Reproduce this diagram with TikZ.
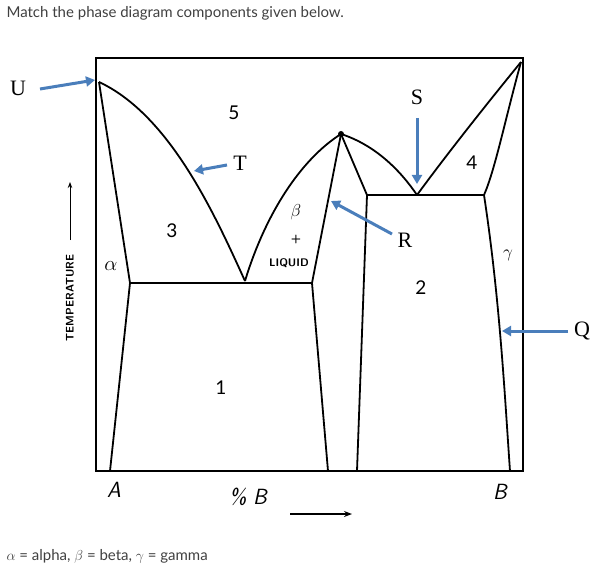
\documentclass[tikz,border=0pt]{standalone}
\usepackage{fontspec}
\setmainfont{Liberation Serif}
\newfontfamily\lato{Lato}
\usetikzlibrary{arrows.meta}
\begin{document}
\begin{tikzpicture}[x=1pt,y=-1pt,
  ph/.style={line width=1.8pt,black},
  bl/.style={draw={rgb,255:red,74;green,126;blue,187},line width=3pt,-{Triangle[length=9pt,width=10pt]}},
  lbl/.style={font=\lato\fontsize{19}{19}\selectfont},
  ser/.style={font=\fontsize{22}{22}\selectfont}]
\useasboundingbox (0,0) rectangle (616,575);
\node[anchor=west,font=\lato\fontsize{15}{15}\selectfont,text=black!75] (title) at (3,13) {Match the phase diagram components given below.};
\draw[ph] (96,58) rectangle (523,471);
\coordinate (U) at (99,82);
\coordinate (a1) at (130,283);
\coordinate (a0) at (110,471);
\coordinate (E) at (245,281);
\coordinate (b1) at (312,283);
\coordinate (b0) at (328,471);
\coordinate (P) at (341,134);
\coordinate (c1) at (367,195);
\coordinate (c0) at (357,471);
\coordinate (S) at (417,195);
\coordinate (g1) at (484,195);
\coordinate (g0) at (510,471);
\coordinate (G) at (521,62);
\draw[ph] (U) -- (a1) -- (a0);
\draw[ph] (U) .. controls (170,115) and (215,215) .. (E);
\draw[ph] (a1) -- (b1);
\draw[ph] (E) .. controls (265,215) and (300,160) .. (P);
\draw[ph] (P) -- (b1) -- (b0);
\draw[ph] (P) -- (c1) -- (c0);
\draw[ph] (P) .. controls (375,145) and (400,170) .. (S);
\draw[ph] (c1) -- (g1);
\draw[ph] (S) .. controls (450,150) and (490,100) .. (G);
\draw[ph] (G) .. controls (505,120) and (495,170) .. (g1);
\draw[ph] (g1) .. controls (500,300) and (505,400) .. (g0);
\fill (P) circle (3pt);
% labels
\node[lbl] (n5) at (234,113) {5};
\node[lbl] (n3) at (172,231) {3};
\node[lbl] (n4) at (472,163) {4};
\node[lbl] (n2) at (421,288) {2};
\node[lbl] (n1) at (221,388) {1};
\node[font=\fontsize{20}{20}\selectfont] (al) at (111,266) {$\alpha$};
\node[font=\fontsize{18}{18}\selectfont] (ga) at (508,255) {$\gamma$};
\node[font=\fontsize{18}{18}\selectfont] (be) at (296,212) {$\beta$};
\node[font=\sffamily\bfseries\fontsize{12}{12}\selectfont] (pl) at (296,239) {+};
\node[font=\sffamily\bfseries\fontsize{11}{11}\selectfont] (lq) at (289,263) {LIQUID};
\node[font=\sffamily\itshape\fontsize{22}{22}\selectfont] (A) at (114,490) {A};
\node[font=\sffamily\itshape\fontsize{22}{22}\selectfont] (B) at (500,492) {B};
\node[font=\sffamily\itshape\fontsize{22}{22}\selectfont] (pB) at (248,497) {\% B};
\coordinate (xa0) at (290,514); \coordinate (xa1) at (352,514);
\draw[line width=1.5pt,-{Stealth[length=8pt]}] (xa0) -- (xa1);
\node[rotate=90,font=\sffamily\bfseries\fontsize{11}{11}\selectfont] (temp) at (70,298) {TEMPERATURE};
\coordinate (ta) at (70,240); \coordinate (tb) at (70,182);
\draw[line width=1pt,-{Stealth[length=6pt]}] (ta) -- (tb);
% question labels and arrows
\node[ser] (Ul) at (18,88) {U};
\coordinate (Ua) at (40,89);
\draw[bl] (Ua) -- (95,80);
\node[ser] (Tl) at (240,163) {T};
\coordinate (Ta) at (227,165);
\draw[bl] (Ta) -- (194,171);
\node[ser] (Sl) at (417,97) {S};
\coordinate (Sa) at (417,118);
\draw[bl] (Sa) -- (417,184);
\node[ser] (Rl) at (405,240) {R};
\coordinate (Ra) at (392,234);
\draw[bl] (Ra) -- (331,201);
\node[ser] (Ql) at (582,331) {Q};
\coordinate (Qa) at (568,331);
\draw[bl] (Qa) -- (502,331);
\node[anchor=west,font=\lato\fontsize{15}{15}\selectfont,text=black!75] (foot) at (3,556) {$\alpha$ = alpha, $\beta$ = beta, $\gamma$ = gamma};
\end{tikzpicture}
\end{document}
